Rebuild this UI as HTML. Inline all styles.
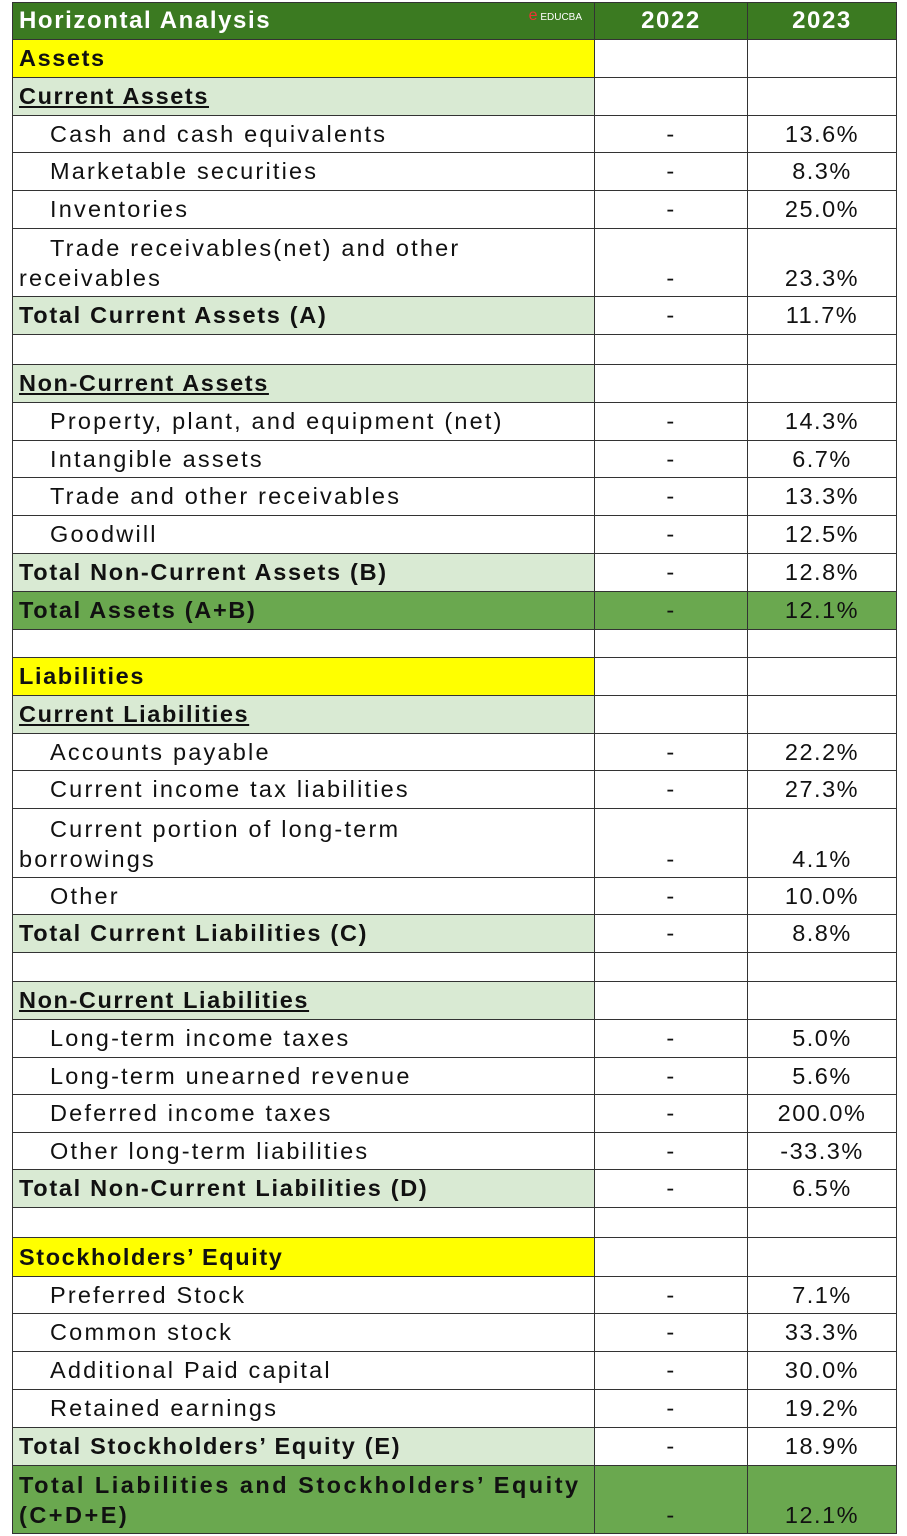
<!DOCTYPE html>
<html><head><meta charset="utf-8"><style>
body{margin:0;width:907px;height:1536px;background:#fff;overflow:hidden;font-family:"Liberation Sans",sans-serif;}
table{position:absolute;left:12px;top:2px;border-collapse:collapse;table-layout:fixed;width:884px;}
td{border:1.5px solid #333;padding:0 0 0 6px;font-size:23.5px;letter-spacing:2.2px;color:#111;vertical-align:middle;white-space:nowrap;overflow:hidden;}
td.v{text-align:center;padding:0;letter-spacing:1.5px;}
td.i{padding-left:37px;}
.h td{background:#3b7a21;color:#fff;font-weight:bold;font-size:24px;letter-spacing:1.6px;}
.y td:first-child{background:#ffff00;font-weight:bold;letter-spacing:1.6px;}
.s td:first-child{background:#d9ead3;font-weight:bold;text-decoration:underline;letter-spacing:1.6px;}
.t td:first-child{background:#d9ead3;font-weight:bold;letter-spacing:1.7px;}
.g td{background:#6aa84f;}
.g td:first-child{font-weight:bold;letter-spacing:1.7px;}
.w td{vertical-align:bottom;padding-bottom:3px;line-height:30px;}
.w td.i{padding-left:6px;text-indent:31px;}
</style></head><body>
<table>
<colgroup><col style="width:582px"><col style="width:153px"><col style="width:149px"></colgroup>
<tr class="h" style="height:37px"><td>Horizontal Analysis <span style="float:right;font-size:10px;margin-right:12px;font-weight:normal;letter-spacing:0"><span style="color:#e33;font-size:16px">e</span> EDUCBA</span></td><td class="v">2022</td><td class="v">2023</td></tr>
<tr class="y" style="height:38px"><td>Assets</td><td></td><td></td></tr>
<tr class="s" style="height:38px"><td>Current Assets</td><td></td><td></td></tr>
<tr style="height:37px"><td class="i">Cash and cash equivalents</td><td class="v">-</td><td class="v">13.6%</td></tr>
<tr style="height:38px"><td class="i">Marketable securities</td><td class="v">-</td><td class="v">8.3%</td></tr>
<tr style="height:38px"><td class="i">Inventories</td><td class="v">-</td><td class="v">25.0%</td></tr>
<tr class="w" style="height:68px"><td class="i">Trade receivables(net) and other<br>receivables</td><td class="v">-</td><td class="v">23.3%</td></tr>
<tr class="t" style="height:38px"><td>Total Current Assets (A)</td><td class="v">-</td><td class="v">11.7%</td></tr>
<tr style="height:30px"><td></td><td></td><td></td></tr>
<tr class="s" style="height:38px"><td>Non-Current Assets</td><td></td><td></td></tr>
<tr style="height:38px"><td class="i">Property, plant, and equipment (net)</td><td class="v">-</td><td class="v">14.3%</td></tr>
<tr style="height:37px"><td class="i">Intangible assets</td><td class="v">-</td><td class="v">6.7%</td></tr>
<tr style="height:38px"><td class="i">Trade and other receivables</td><td class="v">-</td><td class="v">13.3%</td></tr>
<tr style="height:38px"><td class="i">Goodwill</td><td class="v">-</td><td class="v">12.5%</td></tr>
<tr class="t" style="height:38px"><td>Total Non-Current Assets (B)</td><td class="v">-</td><td class="v">12.8%</td></tr>
<tr class="g" style="height:38px"><td>Total Assets (A+B)</td><td class="v">-</td><td class="v">12.1%</td></tr>
<tr style="height:28px"><td></td><td></td><td></td></tr>
<tr class="y" style="height:38px"><td>Liabilities</td><td></td><td></td></tr>
<tr class="s" style="height:38px"><td>Current Liabilities</td><td></td><td></td></tr>
<tr style="height:37px"><td class="i">Accounts payable</td><td class="v">-</td><td class="v">22.2%</td></tr>
<tr style="height:38px"><td class="i">Current income tax liabilities</td><td class="v">-</td><td class="v">27.3%</td></tr>
<tr class="w" style="height:69px"><td class="i">Current portion of long-term<br>borrowings</td><td class="v">-</td><td class="v">4.1%</td></tr>
<tr style="height:37px"><td class="i">Other</td><td class="v">-</td><td class="v">10.0%</td></tr>
<tr class="t" style="height:38px"><td>Total Current Liabilities (C)</td><td class="v">-</td><td class="v">8.8%</td></tr>
<tr style="height:29px"><td></td><td></td><td></td></tr>
<tr class="s" style="height:38px"><td>Non-Current Liabilities</td><td></td><td></td></tr>
<tr style="height:38px"><td class="i">Long-term income taxes</td><td class="v">-</td><td class="v">5.0%</td></tr>
<tr style="height:37px"><td class="i">Long-term unearned revenue</td><td class="v">-</td><td class="v">5.6%</td></tr>
<tr style="height:38px"><td class="i">Deferred income taxes</td><td class="v">-</td><td class="v">200.0%</td></tr>
<tr style="height:37px"><td class="i">Other long-term liabilities</td><td class="v">-</td><td class="v">-33.3%</td></tr>
<tr class="t" style="height:38px"><td>Total Non-Current Liabilities (D)</td><td class="v">-</td><td class="v">6.5%</td></tr>
<tr style="height:30px"><td></td><td></td><td></td></tr>
<tr class="y" style="height:39px"><td>Stockholders’ Equity</td><td></td><td></td></tr>
<tr style="height:37px"><td class="i">Preferred Stock</td><td class="v">-</td><td class="v">7.1%</td></tr>
<tr style="height:38px"><td class="i">Common stock</td><td class="v">-</td><td class="v">33.3%</td></tr>
<tr style="height:38px"><td class="i">Additional Paid capital</td><td class="v">-</td><td class="v">30.0%</td></tr>
<tr style="height:38px"><td class="i">Retained earnings</td><td class="v">-</td><td class="v">19.2%</td></tr>
<tr class="t" style="height:38px"><td>Total Stockholders’ Equity (E)</td><td class="v">-</td><td class="v">18.9%</td></tr>
<tr class="g w" style="height:68px"><td style="letter-spacing:2.5px">Total Liabilities and Stockholders’ Equity<br>(C+D+E)</td><td class="v">-</td><td class="v">12.1%</td></tr>
</table>
</body></html>
